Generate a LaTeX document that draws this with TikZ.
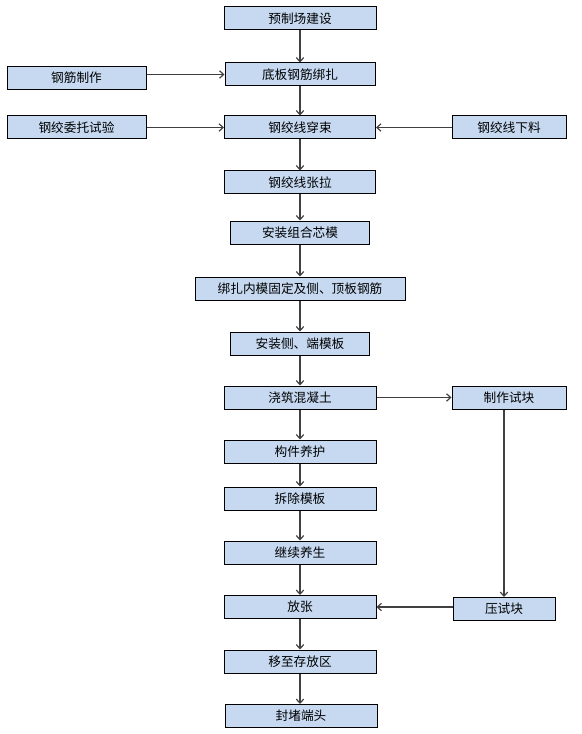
\documentclass[tikz,border=0pt]{standalone}
\usepackage{fontspec}
\usepackage{tikz}
\usetikzlibrary{arrows.meta}
\newfontfamily\cjk{Noto Sans CJK SC}
\definecolor{boxblue}{HTML}{C6D9F1}
\definecolor{linegray}{HTML}{404040}

\tikzset{
  stepbox/.style={draw=black, line width=0.75pt, fill=boxblue, minimum height=17.25pt,
    inner sep=0pt, font=\cjk\fontsize{9.5}{11}\selectfont},
  flow/.style={draw=linegray, line width=0.9pt, -{Straight Barb[length=3pt,width=5.5pt]}}
}

\begin{document}
\begin{tikzpicture}[x=0.75pt,y=-0.75pt]
\useasboundingbox (0,0) rectangle (581,734);

% main column
\node[stepbox, minimum width=114pt] (yuzhi) at (300,18.5) {预制场建设};
\node[stepbox, minimum width=112.5pt] (dibang) at (300,74.5) {底板钢筋绑扎};
\node[stepbox, minimum width=113.25pt] (chuanshu) at (300,127.5) {钢绞线穿束};
\node[stepbox, minimum width=113.25pt] (zhangla) at (300,182.5) {钢绞线张拉};
\node[stepbox, minimum width=104.25pt] (xinmo) at (300,232.5) {安装组合芯模};
\node[stepbox, minimum width=157.5pt] (neimo) at (300,288.5) {绑扎内模固定及侧、顶板钢筋};
\node[stepbox, minimum width=104.25pt] (cemo) at (300,343.5) {安装侧、端模板};
\node[stepbox, minimum width=114pt] (jiaozhu) at (300,397.5) {浇筑混凝土};
\node[stepbox, minimum width=114pt] (yanghu) at (300,451.5) {构件养护};
\node[stepbox, minimum width=114pt] (chaichu) at (300,498.5) {拆除模板};
\node[stepbox, minimum width=114pt] (yangsheng) at (300,552.5) {继续养生};
\node[stepbox, minimum width=114pt] (fangzhang) at (300,607) {放张};
\node[stepbox, minimum width=114pt] (yizhi) at (300,661.5) {移至存放区};
\node[stepbox, minimum width=114pt] (fengdu) at (301,716) {封堵端头};

% side boxes
\node[stepbox, minimum width=104.25pt] (gjzz) at (76.5,78) {钢筋制作};
\node[stepbox, minimum width=104.25pt] (gjwt) at (76.5,127.5) {钢绞委托试验};
\node[stepbox, minimum width=85.5pt] (xialiao) at (509,127.5) {钢绞线下料};
\node[stepbox, minimum width=85.5pt] (shikuai) at (509,397.5) {制作试块};
\node[stepbox, minimum width=76.5pt] (yashi) at (504,609) {压试块};

% vertical flow
\draw[flow] (yuzhi) -- (dibang);
\draw[flow] (dibang) -- (chuanshu);
\draw[flow] (chuanshu) -- (zhangla);
\draw[flow] (zhangla) -- (xinmo);
\draw[flow] (xinmo) -- (neimo);
\draw[flow] (neimo) -- (cemo);
\draw[flow] (cemo) -- (jiaozhu);
\draw[flow] (jiaozhu) -- (yanghu);
\draw[flow] (yanghu) -- (chaichu);
\draw[flow] (chaichu) -- (yangsheng);
\draw[flow] (yangsheng) -- (fangzhang);
\draw[flow] (fangzhang) -- (yizhi);
\draw[flow] (yizhi) -- (yizhi |- fengdu.north);

% side flow
\draw[flow] (gjzz.east |- dibang) -- (dibang.west);
\draw[flow] (gjwt) -- (chuanshu);
\draw[flow] (xialiao) -- (chuanshu);
\draw[flow] (jiaozhu) -- (shikuai);
\draw[flow] (yashi |- shikuai.south) -- (yashi.north);
\draw[flow] (yashi.west |- fangzhang) -- (fangzhang.east);
\end{tikzpicture}
\end{document}
